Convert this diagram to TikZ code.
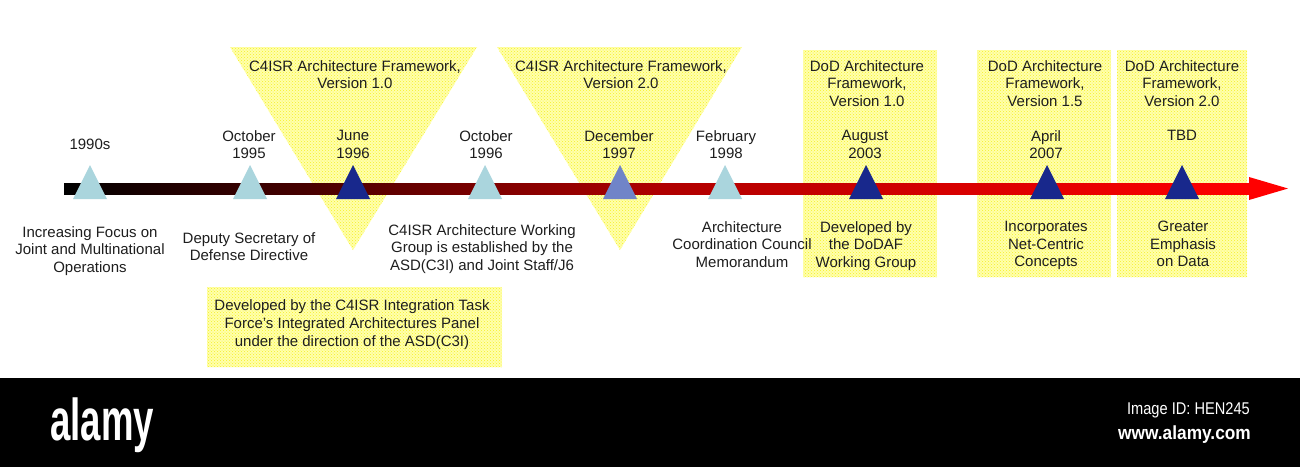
\documentclass[tikz,border=0pt]{standalone}
\usepackage{fontspec}
\setmainfont{Liberation Sans}
\usetikzlibrary{patterns}
\definecolor{lblue}{RGB}{170,213,221}
\definecolor{navy}{RGB}{24,40,140}
\definecolor{paleblue}{RGB}{112,132,200}
\definecolor{ylwbg}{RGB}{255,255,172}
\definecolor{ylwdot}{RGB}{245,240,40}
\definecolor{txt}{RGB}{30,30,30}
\definecolor{midred}{RGB}{175,0,0}
\begin{document}
\begin{tikzpicture}[x=1pt,y=-1pt,
  lbl/.style={align=center,anchor=north,inner sep=0pt,text=txt,font=\fontsize{15}{17.6}\selectfont},
  yzone/.style={fill=ylwbg,postaction={pattern=crosshatch dots,pattern color=ylwdot}},
  marker/.pic={\fill[pic actions] (-17,0) -- (17,0) -- (0,-34) -- cycle;}
]
\useasboundingbox (0,0) rectangle (1300,467);
\fill[white] (0,0) rectangle (1300,378);
\fill[black] (0,378) rectangle (1300,467);

% yellow zones
\path[yzone] (230,47) -- (477,47) -- (353,250) -- cycle;
\path[yzone] (497,47) -- (742,47) -- (620,250) -- cycle;
\path[yzone] (803,50) rectangle (937,277);
\path[yzone] (977,50) rectangle (1111,277);
\path[yzone] (1117,50) rectangle (1247,277);
\path[yzone] (207,287) rectangle (502,367);

% timeline arrow
\shade[left color=black,right color=red,middle color=midred] (64,183) rectangle (1252,194);
\fill[red] (1249,177) -- (1288,188.5) -- (1249,200) -- cycle;

% markers
\pic (m1) [fill=lblue] at (90,199) {marker};
\pic (m2) [fill=lblue] at (250,199) {marker};
\pic (m3) [fill=navy]  at (353,199) {marker};
\pic (m4) [fill=lblue] at (485,199) {marker};
\pic (m5) [fill=paleblue] at (620,199) {marker};
\pic (m6) [fill=lblue] at (725,199) {marker};
\pic (m7) [fill=navy]  at (866,199) {marker};
\pic (m8) [fill=navy]  at (1047,199) {marker};
\pic (m9) [fill=navy]  at (1182,199) {marker};

% framework headings
\node[lbl] (h1) at (355,60) {C4ISR Architecture Framework,\\Version 1.0};
\node[lbl] (h2) at (621,60) {C4ISR Architecture Framework,\\Version 2.0};
\node[lbl] (h3) at (867,60) {DoD Architecture\\Framework,\\Version 1.0};
\node[lbl] (h4) at (1045,60) {DoD Architecture\\Framework,\\Version 1.5};
\node[lbl] (h5) at (1182,60) {DoD Architecture\\Framework,\\Version 2.0};

% dates
\node[lbl] (d1) at (90,139) {1990s};
\node[lbl] (d2) at (249,130) {October\\1995};
\node[lbl] (d3) at (353,130) {June\\1996};
\node[lbl] (d4) at (486,130) {October\\1996};
\node[lbl] (d5) at (619,130) {December\\1997};
\node[lbl] (d6) at (726,130) {February\\1998};
\node[lbl] (d7) at (865,130) {August\\2003};
\node[lbl] (d8) at (1046,130) {April\\2007};
\node[lbl] (d9) at (1182,130) {TBD};

% descriptions
\node[lbl] (e1) at (90,226) {Increasing Focus on\\Joint and Multinational\\Operations};
\node[lbl] (e2) at (249,232) {Deputy Secretary of\\Defense Directive};
\node[lbl] (e4) at (482,224) {C4ISR Architecture Working\\Group is established by the\\ASD(C3I) and Joint Staff/J6};
\node[lbl] (e6) at (742,221) {Architecture\\Coordination Council\\Memorandum};
\node[lbl] (e7) at (866,221) {Developed by\\the DoDAF\\Working Group};
\node[lbl] (e8) at (1046,221) {Incorporates\\Net-Centric\\Concepts};
\node[lbl] (e9) at (1183,221) {Greater\\Emphasis\\on Data};
\node[lbl,font=\fontsize{15}{18}\selectfont] (e3) at (352,299) {Developed by the C4ISR Integration Task\\Force's Integrated Architectures Panel\\under the direction of the ASD(C3I)};

% watermark band
\node[anchor=base west,inner sep=0pt,text=white] (w1) at (50,440)
  {\scalebox{0.62}[1]{\fontsize{59}{59}\selectfont\bfseries alamy}};
\node[anchor=base east,inner sep=0pt,text=white] (w2) at (1250,414)
  {\scalebox{0.86}[1]{\fontsize{17}{17}\selectfont Image ID: HEN245}};
\node[anchor=base east,inner sep=0pt,text=white] (w3) at (1251,439)
  {\scalebox{0.91}[1]{\fontsize{19}{19}\selectfont\bfseries www.alamy.com}};
\end{tikzpicture}
\end{document}
